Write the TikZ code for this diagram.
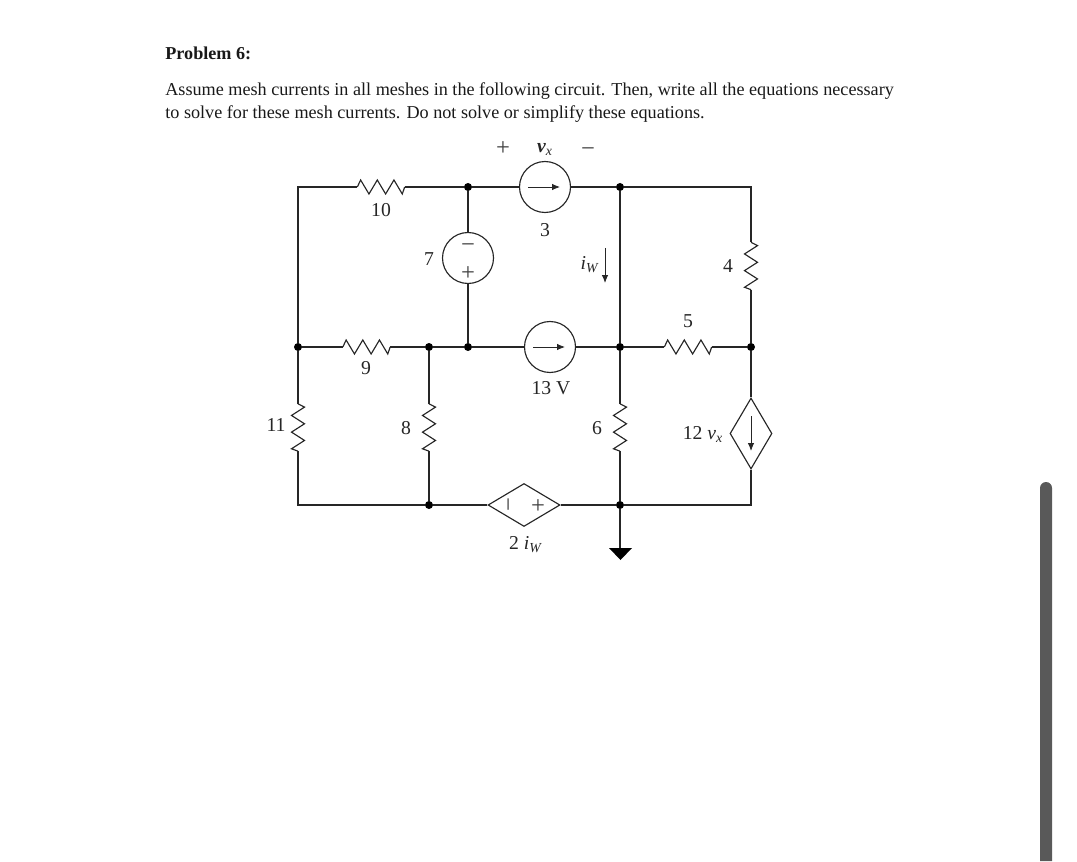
\documentclass[tikz,border=0pt]{standalone}
\usepackage{fontspec}
\setmainfont{Liberation Serif}
\usepackage{tikz}
\usetikzlibrary{arrows.meta,shapes.geometric}

\tikzset{
  wire/.style={line width=0.65pt, draw=black!85},
  cur/.style={line width=0.5pt, draw=black!85, -{Latex[length=1.6mm,width=1.3mm]}},
  dot/.style={shape=circle, fill=black, inner sep=0pt, minimum size=0.16cm},
  src/.style={shape=circle, draw=black!85, line width=0.65pt, inner sep=0pt, minimum size=1.02cm},
  dep/.style={shape=diamond, draw=black!85, line width=0.65pt, inner sep=0pt},
  rbox/.style={inner sep=0pt, minimum width=0.933cm, minimum height=0.28cm},
  rboxv/.style={inner sep=0pt, minimum width=0.28cm, minimum height=0.933cm},
  lbl/.style={text=black!85, inner sep=0pt, yshift=-0.5pt, font=\fontsize{11.2pt}{13pt}\selectfont},
  sign/.style={text=black!75, inner sep=0pt, font=\fontsize{14pt}{14pt}\selectfont},
  para/.style={text=black!90, inner sep=0pt, anchor=base west, font=\fontsize{10.34pt}{13pt}\selectfont}
}
\newcommand{\rhoriz}[1]{\draw[wire] (#1.west) -- ++(3.3,-7) -- ++(8.33,14) -- ++(8.33,-14) -- ++(8.33,14) -- ++(8.33,-14) -- ++(8.33,14) -- (#1.east);}
\newcommand{\rvert}[1]{\draw[wire] (#1.north) -- ++(6.5,3.3) -- ++(-13,8.33) -- ++(13,8.33) -- ++(-13,8.33) -- ++(13,8.33) -- ++(-13,8.33) -- (#1.south);}

\begin{document}
\begin{tikzpicture}[x=0.02cm, y=-0.02cm]
    \useasboundingbox (0, 0) rectangle (1077, 861);

    % text above the circuit
    \node[para, font=\fontsize{10.34pt}{13pt}\selectfont\bfseries] (title) at (165, 60) {Problem 6:};
    \node[para] (line1) at (165, 96) {Assume mesh currents in all meshes in the following circuit. Then, write all the equations necessary};
    \node[para] (line2) at (165, 119) {to solve for these mesh currents. Do not solve or simplify these equations.};

    % corners and junctions
    \coordinate (tl) at (298, 187);
    \coordinate (tr) at (751, 187);
    \coordinate (bl) at (298, 505);
    \coordinate (br) at (751, 505);
    \node[dot] (top7) at (468, 187) {};
    \node[dot] (top6) at (620, 187) {};
    \node[dot] (midl) at (298, 347) {};
    \node[dot] (mid8) at (429, 347) {};
    \node[dot] (mid7) at (468, 347) {};
    \node[dot] (mid6) at (620, 347) {};
    \node[dot] (midr) at (751, 347) {};
    \node[dot] (bot8) at (429, 505) {};
    \node[dot] (bot6) at (620, 505) {};

    % resistors
    \node[rbox] (r10) at (381, 187) {}; \rhoriz{r10}
    \node[rbox] (r9) at (366.5, 347) {}; \rhoriz{r9}
    \node[rbox] (r5) at (688, 347) {}; \rhoriz{r5}
    \node[rboxv] (r4) at (751, 266) {}; \rvert{r4}
    \node[rboxv] (r6) at (620, 427.5) {}; \rvert{r6}
    \node[rboxv] (r8) at (429, 427.5) {}; \rvert{r8}
    \node[rboxv] (r11) at (298, 427.5) {}; \rvert{r11}

    % sources
    \node[src] (s3) at (545, 187) {};
    \node[src] (s13) at (550, 347) {};
    \node[src] (s7) at (468, 258) {};
    \node[dep, minimum width=1.44cm, minimum height=0.86cm] (d2) at (524, 505) {};
    \node[dep, minimum width=0.84cm, minimum height=1.42cm] (d12) at (751, 433.5) {};

    % wires
    \draw[wire] (midl) -- (tl) -- (r10) -- (top7) -- (s3) -- (top6) -- (tr) -- (r4) -- (midr) -- (d12) -- (br) -- (bot6) -- (d2) -- (bot8) -- (bl) -- (r11) -- (midl);
    \draw[wire] (midl) -- (r9) -- (mid8) -- (mid7) -- (s13) -- (mid6) -- (r5) -- (midr);
    \draw[wire] (top7) -- (s7) -- (mid7);
    \draw[wire] (top6) -- (mid6) -- (r6) -- (bot6);
    \draw[wire] (mid8) -- (r8) -- (bot8);

    % ground
    \coordinate (gnd) at (620, 548);
    \coordinate (gndl) at (609, 548);
    \coordinate (gndr) at (632, 548);
    \coordinate (gndb) at (620.5, 560);
    \draw[wire] (bot6) -- (gnd);
    \fill[black] (gndl) -- (gndr) -- (gndb) -- cycle;

    % arrows
    \coordinate (a3l) at (528, 187);
    \coordinate (a3r) at (560, 187);
    \coordinate (a13l) at (533, 347);
    \coordinate (a13r) at (565, 347);
    \coordinate (a12t) at (751, 416);
    \coordinate (a12b) at (751, 451);
    \coordinate (awt) at (605, 248);
    \coordinate (awb) at (605, 283);
    \draw[cur] (a3l) -- (a3r);
    \draw[cur] (a13l) -- (a13r);
    \draw[cur] (a12t) -- (a12b);
    \draw[cur] (awt) -- (awb);

    % labels
    \node[lbl] (l10) at (381, 209) {10};
    \node[lbl] (l9) at (366, 367) {9};
    \node[lbl] (l11) at (276, 424) {11};
    \node[lbl] (l8) at (406, 427) {8};
    \node[lbl] (l7) at (429, 258) {7};
    \node[sign] (lplus) at (503, 149) {+};
    \node[lbl] (lvx) at (545, 149) {\textit{\textbf{v}}\textsubscript{\textit{x}}};
    \node[sign] (lminus) at (588, 152) {−};
    \node[lbl] (l3) at (545, 229) {3};
    \node[lbl] (liw) at (590, 264) {\textit{i}\textsubscript{\textit{W}}};
    \node[lbl] (l4) at (728, 265) {4};
    \node[lbl] (l5) at (688, 320) {5};
    \node[lbl] (l13) at (551, 387) {13 V};
    \node[lbl] (l6) at (597, 427) {6};
    \node[lbl] (l12) at (703, 434) {12 \textit{v}\textsubscript{\textit{x}}};
    \node[lbl] (l2) at (526, 544) {2 \textit{i}\textsubscript{\textit{W}}};
    \node[sign] (s7m) at (468, 248) {−};
    \node[sign] (s7p) at (468, 274) {+};
    \node[sign, rotate=90] (d2m) at (512, 505) {−};
    \node[sign] (d2p) at (538, 507) {+};

    % scroll bar of the screenshot
    \fill[black!65] (1040, 861) -- (1040, 488) arc[start angle=180, end angle=360, radius=6] -- (1052, 861) -- cycle;
\end{tikzpicture}
\end{document}
